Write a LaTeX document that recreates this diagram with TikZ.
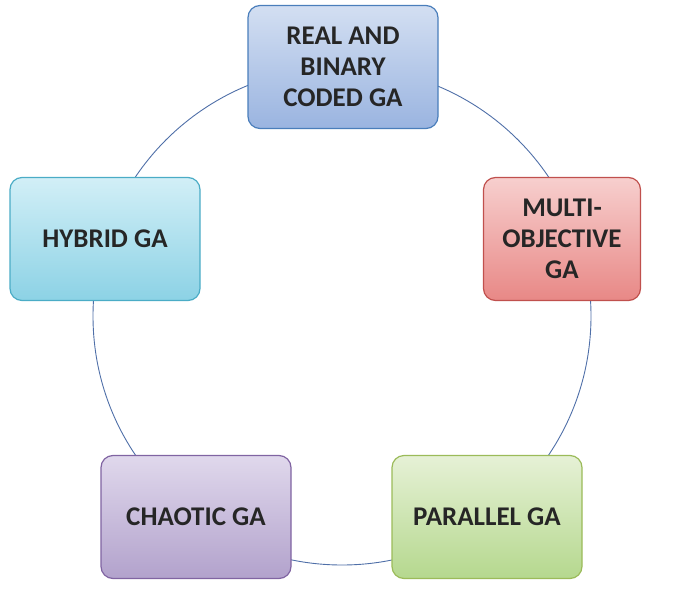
\documentclass[tikz,border=0pt]{standalone}
\usepackage{fontspec}
\setmainfont{Carlito}
\usetikzlibrary{shapes.misc}
\definecolor{bB}{HTML}{4A7EBB}\definecolor{bT}{HTML}{D3DFF2}\definecolor{bD}{HTML}{9AB4E0}
\definecolor{rB}{HTML}{C0504D}\definecolor{rT}{HTML}{F7CFCE}\definecolor{rD}{HTML}{E88886}
\definecolor{gB}{HTML}{9BBB59}\definecolor{gT}{HTML}{E6F1D6}\definecolor{gD}{HTML}{B5D88E}
\definecolor{pB}{HTML}{8064A2}\definecolor{pT}{HTML}{E0D8EC}\definecolor{pD}{HTML}{B2A2CC}
\definecolor{cB}{HTML}{4BACC6}\definecolor{cT}{HTML}{D2EFF7}\definecolor{cD}{HTML}{8CD2E5}
\definecolor{ring}{HTML}{4F6FA8}
\tikzset{
 box/.style n args={3}{draw=#1,top color=#2,bottom color=#3,line width=1.2pt,rounded corners=12pt,
   minimum width=190pt,minimum height=123pt,align=center,font=\fontsize{27}{31}\selectfont\bfseries,text=black!85},
}
\begin{document}
\begin{tikzpicture}[x=1pt,y=-1pt]
\useasboundingbox (0,0) rectangle (685,594);
\draw[ring,line width=0.9pt] (342,316) circle (249);
\node[box={bB}{bT}{bD}] (a) at (343,67) {REAL AND\\BINARY\\CODED GA};
\node[box={rB}{rT}{rD},minimum width=157pt] (b) at (562,239) {MULTI-\\OBJECTIVE\\GA};
\node[box={gB}{gT}{gD}] (c) at (487,517) {PARALLEL GA};
\node[box={pB}{pT}{pD}] (d) at (196,517) {CHAOTIC GA};
\node[box={cB}{cT}{cD}] (e) at (105,239) {HYBRID GA};
\end{tikzpicture}
\end{document}
